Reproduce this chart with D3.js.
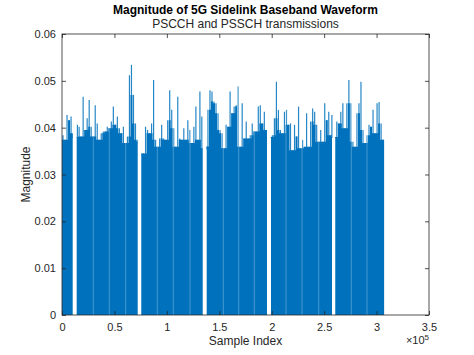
<!DOCTYPE html>
<html>
<head>
<meta charset="utf-8">
<script src="https://cdn.jsdelivr.net/npm/d3@7"></script>
<style>
  html, body { margin: 0; padding: 0; background: #fff; }
  svg { display: block; font-family: "Liberation Sans", Arial, Helvetica, sans-serif; }
</style>
</head>
<body>
<svg id="chart" width="474" height="355"></svg>
<script>
// ---------------- data ----------------
// Peak magnitude of each block of samples (block = binSize samples)
const binSize = 1920;
const peakMag = [
  0.0384, 0.0374, 0.0427, 0.0416, 0.0424, 0.0388, 0.0380, 0.0406, 0.0402, 0.0381,
  0.0466, 0.0395, 0.0420, 0.0459, 0.0402, 0.0381, 0.0448, 0.0409, 0.0374, 0.0388,
  0.0392, 0.0392, 0.0402, 0.0399, 0.0413, 0.0445, 0.0406, 0.0424, 0.0399, 0.0388,
  0.0402, 0.0367, 0.0381, 0.0512, 0.0534, 0.0470, 0.0409, 0.0374, 0.0370, 0.0345,
  0.0345, 0.0402, 0.0395, 0.0388, 0.0409, 0.0502, 0.0374, 0.0359, 0.0377, 0.0406,
  0.0377, 0.0374, 0.0416, 0.0480, 0.0438, 0.0399, 0.0359, 0.0466, 0.0377, 0.0374,
  0.0399, 0.0374, 0.0416, 0.0395, 0.0367, 0.0402, 0.0445, 0.0374, 0.0477, 0.0424,
  0.0356, 0.0360, 0.0438, 0.0480, 0.0477, 0.0456, 0.0452, 0.0431, 0.0395, 0.0388,
  0.0356, 0.0406, 0.0402, 0.0477, 0.0431, 0.0445, 0.0448, 0.0488, 0.0359, 0.0452,
  0.0377, 0.0413, 0.0377, 0.0384, 0.0409, 0.0392, 0.0392, 0.0445, 0.0448, 0.0409,
  0.0434, 0.0395, 0.0402, 0.0380, 0.0384, 0.0420, 0.0498, 0.0438, 0.0395, 0.0388,
  0.0434, 0.0438, 0.0406, 0.0409, 0.0352, 0.0406, 0.0381, 0.0445, 0.0356, 0.0374,
  0.0359, 0.0431, 0.0359, 0.0413, 0.0441, 0.0434, 0.0406, 0.0370, 0.0395, 0.0370,
  0.0452, 0.0416, 0.0434, 0.0384, 0.0427, 0.0380, 0.0413, 0.0409, 0.0434, 0.0452,
  0.0399, 0.0452, 0.0502, 0.0452, 0.0370, 0.0359, 0.0431, 0.0452, 0.0498, 0.0395,
  0.0367, 0.0384, 0.0406, 0.0402, 0.0438, 0.0388, 0.0452, 0.0455, 0.0409, 0.0374
];
// Transmission bursts (sample index ranges); outside them the waveform is zero
const burstStart = [0, 14000, 75600, 138000, 199300, 260600];
const burstEnd   = [10200, 72200, 134200, 195500, 257500, 307200];
// Slot boundaries inside bursts where the magnitude briefly dips
const dipSample = [29850, 45110, 60750, 90890, 106150, 122080, 153830, 168520,
                   183400, 213630, 228890, 244820, 275910, 290880];
// Axes
const xTicks = [0, 50000, 100000, 150000, 200000, 250000, 300000, 350000];
const yTicks = [0, 0.01, 0.02, 0.03, 0.04, 0.05, 0.06];
const xDomain = [0, 350000];
const yDomain = [0, 0.06];
const titleText = "Magnitude of 5G Sidelink Baseband Waveform";
const subtitleText = "PSCCH and PSSCH transmissions";
const xLabelText = "Sample Index";
const yLabelText = "Magnitude";

// ---------------- layout ----------------
const m = { left: 62, right: 429, top: 34, bottom: 315 };
const lineColor = "#0072BD";
const axisColor = "#262626";

const svg = d3.select("#chart");
const x = d3.scaleLinear().domain(xDomain).range([m.left, m.right]);
const y = d3.scaleLinear().domain(yDomain).range([m.bottom, m.top]);

// per-bin pieces clipped to bursts
const pieces = [];
burstStart.forEach((s, k) => {
  const e = burstEnd[k];
  peakMag.forEach((v, i) => {
    const a = i * binSize, b = (i + 1) * binSize;
    const lo = Math.max(a, s), hi = Math.min(b, e);
    if (hi > lo) {
      const nb = d3.min([peakMag[i - 1], v, peakMag[i + 1]].filter(t => t !== undefined));
      pieces.push({ burst: k, lo, hi, peak: v, base: nb });
    }
  });
});

// ---------------- waveform body (dense part) ----------------
const area = d3.area()
  .x(d => x(d[0]))
  .y0(y(0))
  .y1(d => y(d[1]))
  .curve(d3.curveStepAfter);

const g = svg.append("g");
d3.groups(pieces, p => p.burst).forEach(([k, ps]) => {
  const pts = ps.map(p => [p.lo, p.base]);
  pts.push([ps[ps.length - 1].hi, ps[ps.length - 1].base]);
  g.append("path").attr("d", area(pts)).attr("fill", lineColor);
});

// thin spikes up to the peak of each block
g.selectAll("line.spike").data(pieces).join("line")
  .attr("class", "spike")
  .attr("x1", d => x((d.lo + d.hi) / 2)).attr("x2", d => x((d.lo + d.hi) / 2))
  .attr("y1", d => y(d.base) + 1)
  .attr("y2", d => y(d.peak))
  .attr("stroke", lineColor).attr("stroke-opacity", 0.85).attr("stroke-width", 1.2);

// dips at slot boundaries
g.selectAll("line.dip").data(dipSample).join("line")
  .attr("class", "dip")
  .attr("x1", d => x(d)).attr("x2", d => x(d))
  .attr("y1", y(0))
  .attr("y2", d => y(peakMag[Math.floor(d / binSize)]))
  .attr("stroke", "#ffffff").attr("stroke-opacity", 0.28).attr("stroke-width", 1);

// ---------------- axes ----------------
const tickLen = 4;
function styleAxis(sel, showLabels) {
  sel.select(".domain").remove();
  sel.selectAll(".tick line").attr("stroke", axisColor).attr("stroke-width", 0.8);
  sel.selectAll(".tick text").attr("fill", axisColor).style("font-size", "11px")
     .style("font-family", '"Liberation Sans", Arial, sans-serif');
  if (!showLabels) sel.selectAll(".tick text").remove();
}
const fmtX = d => String(d / 1e5);
const fmtY = d => d === 0 ? "0" : d.toFixed(2);

svg.append("g").attr("transform", `translate(0,${m.bottom})`)
  .call(d3.axisBottom(x).tickValues(xTicks).tickFormat(fmtX).tickSize(-tickLen).tickPadding(8))
  .call(s => styleAxis(s, true));
svg.append("g").attr("transform", `translate(0,${m.top})`)
  .call(d3.axisTop(x).tickValues(xTicks).tickSize(-tickLen))
  .call(s => styleAxis(s, false));
svg.append("g").attr("transform", `translate(${m.left},0)`)
  .call(d3.axisLeft(y).tickValues(yTicks).tickFormat(fmtY).tickSize(-tickLen).tickPadding(6))
  .call(s => styleAxis(s, true));
svg.append("g").attr("transform", `translate(${m.right},0)`)
  .call(d3.axisRight(y).tickValues(yTicks).tickSize(-tickLen))
  .call(s => styleAxis(s, false));

// box
svg.append("rect")
  .attr("x", m.left).attr("y", m.top)
  .attr("width", m.right - m.left).attr("height", m.bottom - m.top)
  .attr("fill", "none").attr("stroke", axisColor).attr("stroke-width", 0.8);

// exponent label
const expo = svg.append("text")
  .attr("x", m.right).attr("y", 344)
  .attr("text-anchor", "end").attr("fill", axisColor).style("font-size", "11px");
expo.append("tspan").text("×10");
expo.append("tspan").attr("dy", -4).style("font-size", "8px").text("5");

// labels
svg.append("text").attr("x", (m.left + m.right) / 2).attr("y", 345)
  .attr("text-anchor", "middle").attr("fill", axisColor).style("font-size", "12px")
  .text(xLabelText);
svg.append("text")
  .attr("transform", `translate(30,${(m.top + m.bottom) / 2}) rotate(-90)`)
  .attr("text-anchor", "middle").attr("fill", axisColor).style("font-size", "12px")
  .text(yLabelText);

// titles
svg.append("text").attr("x", (m.left + m.right) / 2).attr("y", 14)
  .attr("text-anchor", "middle").attr("fill", "#000").style("font-size", "12px")
  .style("font-weight", "bold").text(titleText);
svg.append("text").attr("x", (m.left + m.right) / 2).attr("y", 28)
  .attr("text-anchor", "middle").attr("fill", axisColor).style("font-size", "12px")
  .text(subtitleText);
</script>
</body>
</html>
